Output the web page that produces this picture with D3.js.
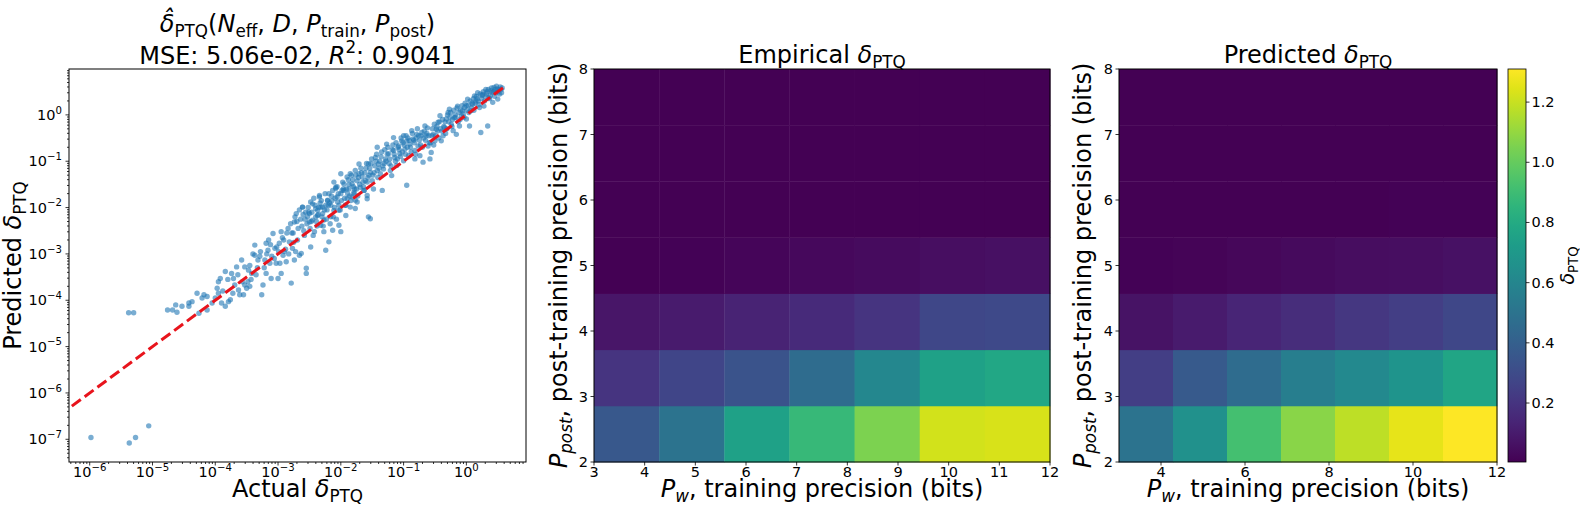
<!DOCTYPE html>
<html>
<head>
<meta charset="utf-8">
<script src="https://cdn.jsdelivr.net/npm/d3@7"></script>
<style>
  body { margin: 0; background: #fff; }
  svg { font-family: "DejaVu Sans", sans-serif; }
  text { white-space: pre; fill: #000; }
</style>
</head>
<body>
<svg id="fig" width="1580" height="506"></svg>
<script>
// ---- left panel: log10(actual), log10(predicted) delta_PTQ ----
const lowOutliers = [[-5.98,-6.96],[-5.37,-7.08],[-5.27,-6.96],[-5.06,-6.71],[-5.38,-4.27],[-5.30,-4.27]];

const lowerBand = [
  [-4.76,-4.21],[-4.68,-4.21],[-4.63,-4.10],[-4.61,-4.26],[-4.53,-4.13],[-4.42,-4.13],[-4.42,-4.06],[-4.37,-4.03],
  [-4.29,-3.85],[-4.26,-4.28],[-4.21,-3.95],[-4.18,-3.88],[-4.13,-3.92],[-4.13,-4.21],[-4.05,-4.06],[-4.00,-3.95],
  [-3.97,-3.74],[-3.95,-3.85],[-3.92,-3.53],[-3.90,-4.06],[-3.84,-4.13],[-3.84,-3.38],[-3.79,-4.03],[-3.76,-3.99],
  [-3.74,-3.42],[-3.71,-3.53],[-3.69,-3.67],[-3.66,-3.28],[-3.63,-3.78],[-3.61,-3.88],[-3.58,-3.13],[-3.55,-3.88],
  [-3.53,-3.28],[-3.53,-3.67],[-3.50,-3.74],[-3.48,-3.60],[-3.45,-3.70],[-3.42,-3.42],[-3.37,-2.81],[-3.37,-3.03],
  [-3.32,-3.13],[-3.26,-3.88],[-3.24,-3.67],[-3.21,-3.13],[-3.19,-3.42],[-3.19,-2.77],[-3.16,-2.92],[-3.13,-3.20],
  [-3.11,-3.53],[-3.08,-2.56],[-3.05,-2.88],[-3.03,-3.20],[-3.00,-3.53],[-2.98,-2.77],[-2.95,-2.52],[-2.95,-3.42],
  [-2.92,-3.03],[-2.90,-2.95],[-2.87,-3.17],[-2.84,-2.45],[-2.82,-2.74],[-2.79,-3.63],[-2.77,-2.88],[-2.74,-3.13],
  [-2.74,-2.31],[-2.71,-2.13],[-2.69,-2.70],[-2.66,-3.03],[-2.63,-2.99],[-2.61,-1.99],[-2.58,-2.60],[-2.55,-3.31],
  [-2.55,-3.42],[-2.53,-2.20],[-2.50,-2.31],[-2.48,-2.85],[-2.45,-1.92],[-2.42,-2.52],[-2.40,-2.20],[-2.37,-2.06],
  [-2.34,-1.74],[-2.32,-2.38],[-2.29,-1.99],[-2.27,-2.52],[-2.24,-2.92],[-2.21,-1.84],[-2.19,-2.74],[-2.16,-2.20],
  [-2.13,-2.49],[-2.11,-2.06],[-2.08,-1.59],[-2.05,-1.88],[-2.03,-2.38],[-2.00,-2.52],[-1.95,-1.63],[-1.92,-2.17],
  [-1.90,-1.81],[-1.85,-1.99],[-1.82,-1.77],[-1.79,-1.70],[-1.77,-1.84],[-1.74,-1.88],[-1.63,-1.63],[-1.58,-1.81],
  [-1.53,-2.24]
];

const upperBand = [
  [-2.61,-1.99],[-2.56,-2.10],[-2.50,-2.13],[-2.48,-1.88],[-2.45,-2.27],[-2.40,-2.02],[-2.37,-2.17],[-2.34,-1.77],
  [-2.32,-1.99],[-2.29,-2.13],[-2.27,-2.27],[-2.24,-1.95],[-2.21,-1.85],[-2.19,-1.70],[-2.16,-1.95],[-2.13,-1.63],
  [-2.11,-1.45],[-2.08,-1.56],[-2.06,-1.77],[-2.03,-2.06],[-2.00,-1.27],[-1.98,-1.63],[-1.95,-1.49],[-1.92,-1.95],
  [-1.90,-1.34],[-1.87,-1.60],[-1.85,-1.27],[-1.82,-1.49],[-1.79,-1.67],[-1.77,-2.02],[-1.74,-1.42],[-1.71,-1.06],
  [-1.71,-1.27],[-1.69,-1.56],[-1.66,-1.34],[-1.63,-1.63],[-1.61,-1.42],[-1.58,-1.74],[-1.56,-1.06],[-1.56,-2.20],
  [-1.53,-1.24],[-1.50,-1.42],[-1.48,-1.60],[-1.45,-0.92],[-1.42,-0.70],[-1.42,-1.20],[-1.40,-1.06],[-1.37,-1.27],
  [-1.34,-1.63],[-1.32,-1.17],[-1.29,-0.95],[-1.27,-0.63],[-1.24,-0.84],[-1.21,-1.20],[-1.19,-1.31],[-1.16,-0.49],
  [-1.16,-0.77],[-1.14,-0.92],[-1.11,-1.09],[-1.08,-0.67],[-1.06,-0.84],[-1.03,-0.56],[-1.00,-0.45],[-1.00,-0.99],
  [-0.98,-0.74],[-0.95,-1.52],[-0.95,-0.56],[-0.92,-0.88],[-0.90,-0.63],[-0.87,-0.34],[-0.85,-0.52],[-0.82,-0.95],
  [-0.82,-0.77],[-0.79,-0.42],[-0.77,-0.67],[-0.74,-0.88],[-0.71,-0.38],[-0.69,-1.02],[-0.66,-0.24],[-0.64,-0.45],
  [-0.61,-0.67],[-0.58,-0.95],[-0.56,-0.81],[-0.53,-0.42],[-0.50,-0.56],[-0.48,-0.31],[-0.45,-0.16],[-0.42,-0.02],
  [-0.40,-0.56],[-0.37,-0.45],[-0.35,-0.27],[-0.32,-0.09],[-0.29,0.05],[-0.27,0.12],[-0.24,-0.20],[-0.21,-0.34],
  [-0.19,-0.06],[-0.16,-0.42],[-0.14,0.19],[-0.11,-0.24],[-0.08,-0.02],[-0.06,0.09],[-0.03,0.16],[0.00,-0.09],
  [0.02,0.34],[0.05,-0.24],[0.07,0.09],[0.10,0.23],[0.13,0.41],[0.15,0.30],[0.18,0.48],[0.21,0.16],
  [0.23,-0.38],[0.26,0.44],[0.28,0.19],[0.31,0.55],[0.34,-0.24],[0.36,0.37],[0.39,0.52],[0.42,0.27],
  [0.44,0.59],[0.47,0.48],[0.50,0.34],[0.52,0.55]
];

const coreFill = [
  [-3.45,-3.25],[-3.40,-3.00],[-3.35,-3.45],[-3.28,-2.95],[-3.22,-3.30],[-3.15,-2.70],[-3.10,-3.05],[-3.02,-2.85],
  [-2.97,-3.20],[-2.93,-2.65],[-2.88,-2.90],[-2.83,-3.00],[-2.78,-2.55],[-2.75,-2.75],[-2.72,-2.95],
  [-2.70,-2.30],[-2.66,-2.05],[-2.62,-2.40],[-2.57,-2.25],[-2.52,-2.00],[-2.49,-2.45],[-2.46,-2.10],[-2.43,-1.80],
  [-2.39,-2.30],[-2.35,-2.00],[-2.31,-1.85],[-2.28,-2.40],[-2.25,-1.70],[-2.22,-2.05],[-2.18,-1.90],[-2.15,-1.75],
  [-2.12,-2.20],[-2.09,-1.80],[-2.06,-1.55],[-2.03,-1.95],[-2.00,-1.70],[-1.97,-1.45],[-1.94,-1.80],[-1.91,-1.60],
  [-1.88,-1.40],[-1.86,-1.75],[-1.83,-1.30],[-1.80,-1.55],[-1.77,-1.20],[-1.75,-1.60],[-1.72,-1.35],[-1.68,-1.15],
  [-1.65,-1.45],[-1.62,-1.25],[-1.59,-1.05],[-1.57,-1.35],[-1.54,-1.15],[-1.51,-0.95],[-1.49,-1.30],[-1.46,-1.10],
  [-1.43,-0.85],[-1.41,-1.35],[-1.38,-1.00],[-1.35,-0.80],[-1.33,-1.10],[-1.30,-0.75],[-1.28,-1.00],[-1.25,-0.70],
  [-1.22,-0.95],[-1.20,-1.10],[-1.17,-0.65],[-1.15,-0.85],[-1.12,-0.60],[-1.10,-0.95],[-1.07,-0.75],[-1.04,-0.50],
  [-1.02,-0.80],[-0.99,-0.65],[-0.96,-0.45],[-0.94,-0.70],[-0.91,-0.55],[-0.88,-0.80],[-0.86,-0.40],[-0.83,-0.60],
  [-0.80,-0.50],[-0.78,-0.30],[-0.75,-0.55],[-0.72,-0.45],[-0.70,-0.70],[-0.67,-0.35],[-0.65,-0.55],[-0.62,-0.28],
  [-0.60,-0.45],[-0.57,-0.60],[-0.54,-0.30],[-0.51,-0.20],[-0.49,-0.45],[-0.46,-0.35],[-0.43,-0.15],[-0.41,-0.30],
  [-0.38,-0.10],[-0.36,-0.25],[-0.33,-0.40],[-0.30,0.00],[-0.28,-0.15],[-0.25,0.05],[-0.22,-0.10],[-0.20,0.10],
  [-0.17,-0.05],[-0.15,0.15],[-0.12,0.05],[-0.10,-0.10],[-0.07,0.20],[-0.05,0.02],[-0.02,0.25],[0.01,0.10],
  [0.03,0.20],[0.06,0.30],[0.08,0.15],[0.11,0.35],[0.14,0.25],[0.16,0.40],[0.19,0.30],[0.22,0.45],
  [0.24,0.35],[0.27,0.50],[0.30,0.40],[0.32,0.45],[0.35,0.55],[0.38,0.42],[0.40,0.58],[0.43,0.50],
  [0.46,0.55],[0.48,0.62],[0.51,0.50],[0.54,0.60],[0.56,0.48],[0.57,0.58]
];

const denseFill = [
  [-3.95,-3.60],[-3.88,-3.80],[-3.80,-3.55],[-3.72,-3.85],[-3.64,-3.45],[-3.57,-3.60],[-3.47,-3.35],[-3.43,-3.55],
  [-3.33,-3.30],[-3.29,-3.05],[-3.18,-3.00],[-3.12,-2.80],[-3.06,-3.10],[-2.99,-2.95],[-2.91,-2.70],[-2.86,-2.55],
  [-2.80,-2.35],[-2.76,-2.55],[-2.73,-2.20],[-2.68,-2.45],[-2.64,-2.25],[-2.60,-2.15],[-2.59,-2.50],[-2.54,-2.35],
  [-2.51,-2.10],[-2.47,-2.30],[-2.44,-2.60],[-2.41,-1.95],[-2.38,-2.40],[-2.36,-2.15],[-2.33,-1.90],[-2.30,-2.20],
  [-2.26,-2.05],[-2.23,-2.25],[-2.20,-1.95],[-2.17,-2.35],[-2.14,-1.85],[-2.10,-2.00],[-2.07,-2.25],[-2.04,-1.70],
  [-2.01,-2.05],[-1.99,-1.85],[-1.96,-1.60],[-1.93,-1.95],[-1.89,-1.70],[-1.87,-1.50],[-1.84,-1.85],[-1.81,-1.40],
  [-1.78,-1.60],[-1.76,-1.30],[-1.73,-1.75],[-1.70,-1.50],[-1.67,-1.25],[-1.64,-1.55],[-1.60,-1.15],[-1.58,-1.45],
  [-1.55,-1.30],[-1.52,-1.05],[-1.47,-1.25],[-1.44,-1.00],[-1.39,-1.15],[-1.36,-0.90],[-1.31,-1.05],[-1.26,-0.85],
  [-1.23,-1.05],[-1.18,-0.75],[-1.13,-1.00],[-1.09,-0.70],[-1.05,-0.90],[-1.01,-0.60],[-0.97,-0.85],[-0.93,-0.50],
  [-0.89,-0.70],[-0.84,-0.55],[-0.81,-0.85],[-0.76,-0.45],[-0.73,-0.65],[-0.68,-0.50],[-0.63,-0.40],[-0.59,-0.60],
  [-0.55,-0.45],[-0.52,-0.65],[-0.47,-0.25],[-0.44,-0.50],[-0.39,-0.35],[-0.34,-0.15],[-0.31,-0.30],[-0.26,-0.05],
  [-0.23,-0.25],[-0.18,0.00],[-0.13,-0.15],[-0.09,0.10],[-0.04,-0.05],[0.00,0.20],[0.04,0.05],[0.09,0.25],
  [0.12,0.10],[0.17,0.35],[0.20,0.22],[0.25,0.42],[0.29,0.30],[0.33,0.50],[0.37,0.35],[0.41,0.48],
  [0.45,0.40],[0.49,0.56],[0.53,0.45],[0.55,0.55]
];

const refLineLog = [-7.1, 0.6];          // y = x guide, log10 range
const scatterXLim = [-6.33, 0.95];       // log10 axis limits
const scatterYLim = [-7.49, 0.99];
const scatterXTicks = [-6, -5, -4, -3, -2, -1, 0];
const scatterYTicks = [-7, -6, -5, -4, -3, -2, -1, 0];

// ---- heatmaps: rows from P_post = 2 (bottom) upward, columns P_w 3 -> 12 ----
const pwExtent = [3, 12];
const ppostExtent = [2, 8];
const empiricalDelta = [
  [0.36, 0.50, 0.75, 0.88, 1.05, 1.22, 1.23],
  [0.20, 0.27, 0.34, 0.46, 0.61, 0.75, 0.78],
  [0.08, 0.10, 0.13, 0.16, 0.20, 0.28, 0.29],
  [0.008, 0.012, 0.02, 0.03, 0.04, 0.05, 0.06],
  [0.004, 0.005, 0.005, 0.006, 0.007, 0.008, 0.009],
  [0.004, 0.004, 0.004, 0.004, 0.005, 0.005, 0.005],
  [0.004, 0.004, 0.004, 0.004, 0.004, 0.004, 0.004]
];
const predictedDelta = [
  [0.50, 0.66, 0.92, 1.08, 1.18, 1.26, 1.31],
  [0.24, 0.37, 0.46, 0.56, 0.62, 0.68, 0.77],
  [0.07, 0.10, 0.14, 0.17, 0.21, 0.24, 0.28],
  [0.01, 0.015, 0.025, 0.035, 0.045, 0.055, 0.065],
  [0.004, 0.005, 0.006, 0.007, 0.009, 0.011, 0.013],
  [0.004, 0.004, 0.004, 0.004, 0.004, 0.005, 0.005],
  [0.004, 0.004, 0.004, 0.004, 0.004, 0.004, 0.004]
];
const pwTicksEmp = [3, 4, 5, 6, 7, 8, 9, 10, 11, 12];
const pwTicksPred = [4, 6, 8, 10, 12];
const ppostTicks = [2, 3, 4, 5, 6, 7, 8];
const cbarTicks = [0.2, 0.4, 0.6, 0.8, 1.0, 1.2];

// ---------------------------------------------------------------------
const svg = d3.select("#fig");
const TOP = 69, BOT = 462;
const TICK_FS = 14.5, LABEL_FS = 24, XLAB_Y = 496.5, XTICK_Y = 477;

function rich(sel, parts, fs) {
  let cur = 0;
  for (const p of parts) {
    const ts = sel.append("tspan").text(p.t);
    let off = 0, size = fs;
    if (p.sub) { off = fs * 0.22; size = fs * 0.7; }
    if (p.sup) { off = -fs * 0.42; size = fs * 0.7; }
    ts.attr("font-size", size);
    if (off !== cur) ts.attr("dy", off - cur);
    if (p.it) ts.attr("font-style", "italic");
    cur = off;
  }
  return sel;
}

function powLabel(sel, exp) {
  sel.append("tspan").text("10");
  sel.append("tspan").attr("font-size", TICK_FS * 0.7).attr("dy", -6.3)
    .text(exp < 0 ? "\u2212" + (-exp) : String(exp));
}

// ================= scatter =================
const sx = d3.scaleLog().domain(scatterXLim.map(v => 10 ** v)).range([69, 526]);
const sy = d3.scaleLog().domain(scatterYLim.map(v => 10 ** v)).range([BOT, TOP]);

svg.append("clipPath").attr("id", "clipS").append("rect")
  .attr("x", 69).attr("y", TOP).attr("width", 457).attr("height", BOT - TOP);

const scatterPts = [].concat(lowOutliers, lowerBand, upperBand, coreFill, denseFill);
const gs = svg.append("g").attr("clip-path", "url(#clipS)");
gs.selectAll("circle").data(scatterPts).join("circle")
  .attr("cx", d => sx(10 ** d[0]))
  .attr("cy", d => sy(10 ** d[1]))
  .attr("r", 2.7)
  .attr("fill", "#1f77b4")
  .attr("fill-opacity", 0.6);

gs.append("path")
  .attr("d", d3.line()([[sx(10 ** refLineLog[0]), sy(10 ** refLineLog[0])],
                        [sx(10 ** refLineLog[1]), sy(10 ** refLineLog[1])]]))
  .attr("stroke", "#e8141c").attr("stroke-width", 3)
  .attr("stroke-dasharray", "11.1,4.8").attr("fill", "none");

// minor + major ticks
function logMinor(lim) {
  const out = [];
  for (let k = Math.floor(lim[0]); k <= Math.ceil(lim[1]); k++)
    for (let m = 2; m <= 9; m++) {
      const v = Math.log10(m) + k;
      if (v > lim[0] && v < lim[1]) out.push(v);
    }
  return out;
}
const axS = svg.append("g").attr("stroke", "#000").attr("stroke-width", 0.8);
logMinor(scatterXLim).forEach(v => {
  const x = sx(10 ** v);
  axS.append("line").attr("x1", x).attr("x2", x).attr("y1", BOT).attr("y2", BOT + 2);
});
logMinor(scatterYLim).forEach(v => {
  const y = sy(10 ** v);
  axS.append("line").attr("x1", 69).attr("x2", 67).attr("y1", y).attr("y2", y);
});
scatterXTicks.forEach(k => {
  const x = sx(10 ** k);
  axS.append("line").attr("x1", x).attr("x2", x).attr("y1", BOT).attr("y2", BOT + 3.5);
  powLabel(svg.append("text").attr("x", x).attr("y", XTICK_Y).attr("text-anchor", "middle")
    .attr("font-size", TICK_FS), k);
});
scatterYTicks.forEach(k => {
  const y = sy(10 ** k);
  axS.append("line").attr("x1", 69).attr("x2", 65.5).attr("y1", y).attr("y2", y);
  powLabel(svg.append("text").attr("x", 62).attr("y", y + 5).attr("text-anchor", "end")
    .attr("font-size", TICK_FS), k);
});
svg.append("rect").attr("x", 69).attr("y", TOP).attr("width", 457).attr("height", BOT - TOP)
  .attr("fill", "none").attr("stroke", "#000").attr("stroke-width", 1);

rich(svg.append("text").attr("x", 297.5).attr("y", 31.5).attr("text-anchor", "middle").attr("font-size", LABEL_FS),
  [{t: "\u03B4\u0302", it: 1}, {t: "PTQ", sub: 1}, {t: "("}, {t: "N", it: 1}, {t: "eff", sub: 1}, {t: ", "},
   {t: "D", it: 1}, {t: ", "}, {t: "P", it: 1}, {t: "train", sub: 1}, {t: ", "}, {t: "P", it: 1},
   {t: "post", sub: 1}, {t: ")"}], LABEL_FS);
rich(svg.append("text").attr("x", 297.5).attr("y", 63.5).attr("text-anchor", "middle").attr("font-size", LABEL_FS),
  [{t: "MSE: 5.06e-02, "}, {t: "R", it: 1}, {t: "2", sup: 1}, {t: ": 0.9041"}], LABEL_FS);
rich(svg.append("text").attr("x", 297.5).attr("y", XLAB_Y).attr("text-anchor", "middle").attr("font-size", LABEL_FS),
  [{t: "Actual "}, {t: "\u03B4", it: 1}, {t: "PTQ", sub: 1}], LABEL_FS);
rich(svg.append("text").attr("transform", `translate(21,${(TOP + BOT) / 2}) rotate(-90)`)
  .attr("text-anchor", "middle").attr("font-size", LABEL_FS),
  [{t: "Predicted "}, {t: "\u03B4", it: 1}, {t: "PTQ", sub: 1}], LABEL_FS);

// ================= heatmaps =================
const allVals = empiricalDelta.flat().concat(predictedDelta.flat());
const color = d3.scaleSequential(d3.interpolateViridis).domain(d3.extent(allVals));

function heatmap(data, x0, x1, xTicks, titleText, yLabelX) {
  const x = d3.scaleLinear().domain(pwExtent).range([x0, x1]);
  const y = d3.scaleLinear().domain(ppostExtent).range([BOT, TOP]);
  const nr = data.length, nc = data[0].length;
  const cw = (pwExtent[1] - pwExtent[0]) / nc, rh = (ppostExtent[1] - ppostExtent[0]) / nr;
  const cells = [];
  data.forEach((row, r) => row.forEach((v, c) => cells.push({r, c, v})));
  const g = svg.append("g");
  g.selectAll("rect").data(cells).join("rect")
    .attr("x", d => x(pwExtent[0] + d.c * cw))
    .attr("y", d => y(ppostExtent[0] + (d.r + 1) * rh))
    .attr("width", d => x(pwExtent[0] + (d.c + 1) * cw) - x(pwExtent[0] + d.c * cw) + 0.4)
    .attr("height", d => y(ppostExtent[0] + d.r * rh) - y(ppostExtent[0] + (d.r + 1) * rh) + 0.4)
    .attr("fill", d => color(d.v));

  const ax = svg.append("g").attr("stroke", "#000").attr("stroke-width", 0.8);
  xTicks.forEach(t => {
    ax.append("line").attr("x1", x(t)).attr("x2", x(t)).attr("y1", BOT).attr("y2", BOT + 3.5);
    svg.append("text").attr("x", x(t)).attr("y", XTICK_Y).attr("text-anchor", "middle")
      .attr("font-size", TICK_FS).text(t);
  });
  ppostTicks.forEach(t => {
    ax.append("line").attr("x1", x0).attr("x2", x0 - 3.5).attr("y1", y(t)).attr("y2", y(t));
    svg.append("text").attr("x", x0 - 6).attr("y", y(t) + 5).attr("text-anchor", "end")
      .attr("font-size", TICK_FS).text(t);
  });
  svg.append("rect").attr("x", x0).attr("y", TOP).attr("width", x1 - x0).attr("height", BOT - TOP)
    .attr("fill", "none").attr("stroke", "#000").attr("stroke-width", 1);

  const cx = (x0 + x1) / 2;
  rich(svg.append("text").attr("x", cx).attr("y", 63).attr("text-anchor", "middle").attr("font-size", LABEL_FS),
    [{t: titleText + " "}, {t: "\u03B4", it: 1}, {t: "PTQ", sub: 1}], LABEL_FS);
  rich(svg.append("text").attr("x", cx).attr("y", XLAB_Y).attr("text-anchor", "middle").attr("font-size", LABEL_FS),
    [{t: "P", it: 1}, {t: "w", sub: 1, it: 1}, {t: ", training precision (bits)"}], LABEL_FS);
  rich(svg.append("text").attr("transform", `translate(${yLabelX},${(TOP + BOT) / 2}) rotate(-90)`)
    .attr("text-anchor", "middle").attr("font-size", LABEL_FS),
    [{t: "P", it: 1}, {t: "post", sub: 1, it: 1}, {t: ", post-training precision (bits)"}], LABEL_FS);
}

heatmap(empiricalDelta, 594, 1050, pwTicksEmp, "Empirical", 567);
heatmap(predictedDelta, 1119, 1497, pwTicksPred, "Predicted", 1091);

// ================= colorbar =================
const cbX = 1508, cbW = 18;
const cy = d3.scaleLinear().domain(color.domain()).range([BOT, TOP]);
const grad = svg.append("defs").append("linearGradient").attr("id", "vir")
  .attr("x1", 0).attr("y1", 1).attr("x2", 0).attr("y2", 0);
d3.range(0, 1.0001, 0.05).forEach(t => {
  grad.append("stop").attr("offset", t).attr("stop-color", d3.interpolateViridis(t));
});
svg.append("rect").attr("x", cbX).attr("y", TOP).attr("width", cbW).attr("height", BOT - TOP)
  .attr("fill", "url(#vir)").attr("stroke", "#000").attr("stroke-width", 0.8);
cbarTicks.forEach(t => {
  svg.append("line").attr("x1", cbX + cbW).attr("x2", cbX + cbW + 3.5)
    .attr("y1", cy(t)).attr("y2", cy(t)).attr("stroke", "#000").attr("stroke-width", 0.8);
  svg.append("text").attr("x", cbX + cbW + 5.5).attr("y", cy(t) + 5).attr("font-size", TICK_FS)
    .text(t.toFixed(1));
});
rich(svg.append("text").attr("transform", `translate(1574,${(TOP + BOT) / 2}) rotate(-90)`)
  .attr("text-anchor", "middle").attr("font-size", 19),
  [{t: "\u03B4", it: 1}, {t: "PTQ", sub: 1}], 19);
</script>
</body>
</html>
